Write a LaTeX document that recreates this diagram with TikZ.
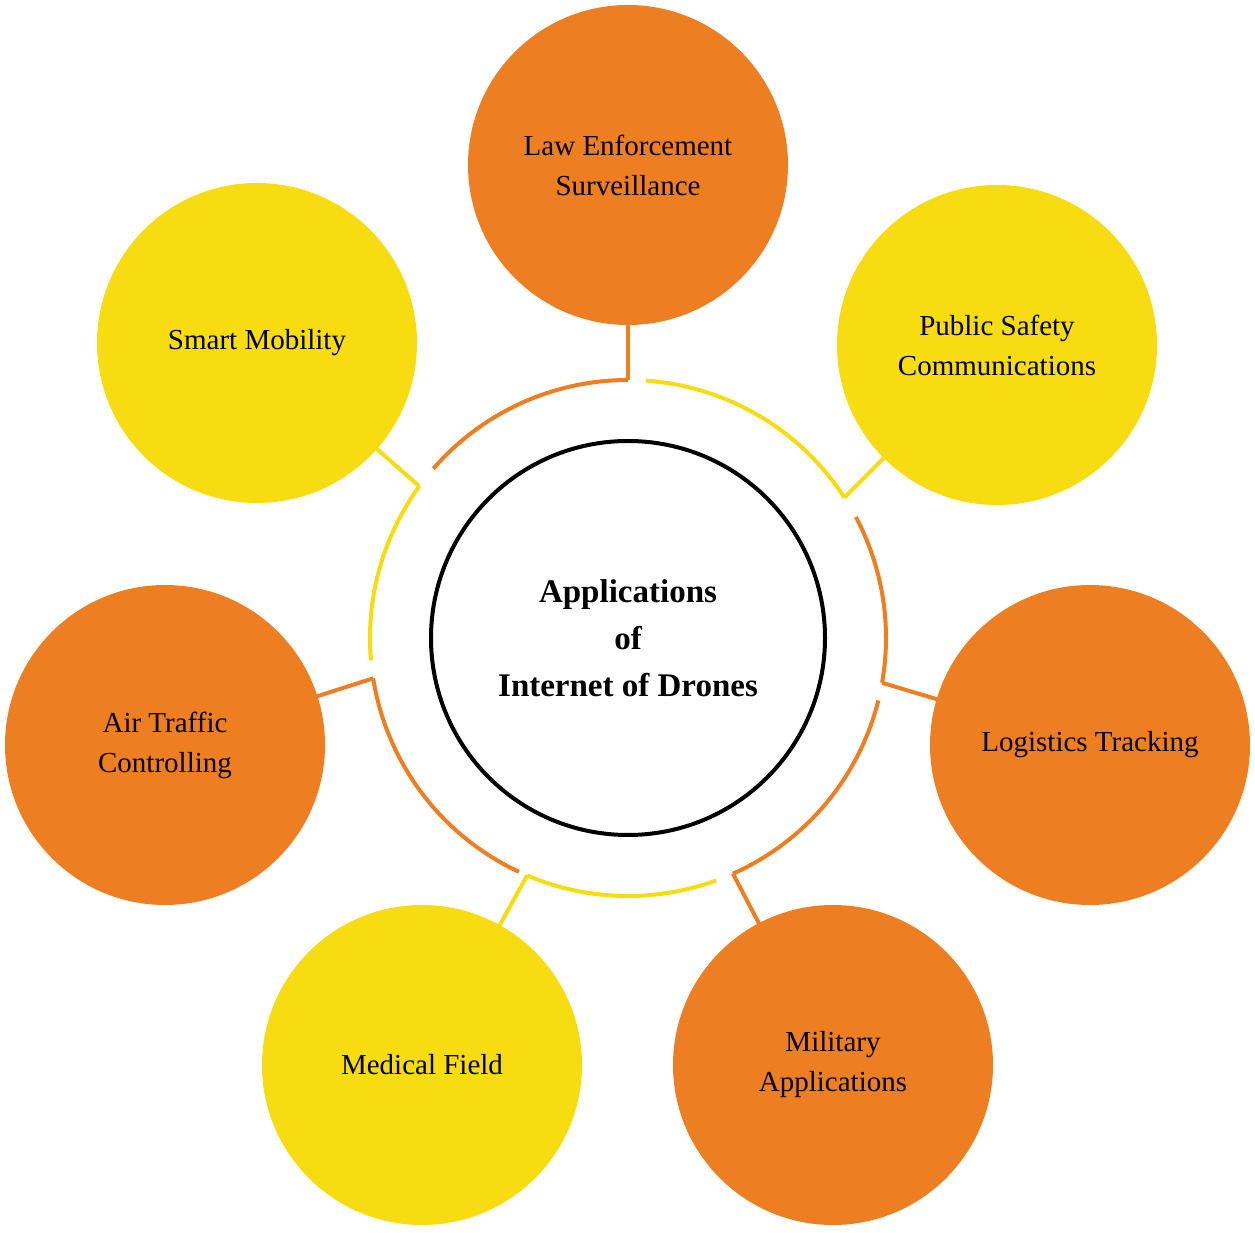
\documentclass[tikz,border=0pt]{standalone}
\usepackage{fontspec}
\setmainfont{Liberation Serif}
\begin{document}
\begin{tikzpicture}[x=1pt,y=1pt,
  sat/.style={circle,minimum size=320pt,inner sep=0pt,align=center,font=\fontsize{29}{40}\selectfont},
  orn/.style={fill=Or},
  yel/.style={fill=Ye},
  ring/.style={line width=4pt},
  conn/.style={line width=4pt}]
\definecolor{Or}{HTML}{EE7E22}
\definecolor{Ye}{HTML}{F6DC10}
\useasboundingbox (0,0) rectangle (1255,1232);
\coordinate (C) at (628,594);
% ring anchor points
\foreach \n/\a in {pL/90,pS/144,pA/189,pM/247,pMi/294,pLo/350,pP/33}
  \coordinate (\n) at ([shift={(\a:258pt)}]C);
% connectors
\draw[conn,Or] (pL) -- (628,1067);
\draw[conn,Ye] (pS) -- (257,889);
\draw[conn,Or] (pA) -- (165,487);
\draw[conn,Ye] (pM) -- (422,167);
\draw[conn,Or] (pMi) -- (833,167);
\draw[conn,Or] (pLo) -- (1090,487);
\draw[conn,Ye] (pP) -- (997,887);
% arcs
\draw[ring,Or] (pL) arc[start angle=90,end angle=139,radius=258pt];
\draw[ring,Ye] (pS) arc[start angle=144,end angle=185,radius=258pt];
\draw[ring,Or] (pA) arc[start angle=189,end angle=245,radius=258pt];
\draw[ring,Ye] (pM) arc[start angle=247,end angle=290,radius=258pt];
\draw[ring,Or] (pMi) arc[start angle=294,end angle=346,radius=258pt];
\draw[ring,Or] (pLo) arc[start angle=350,end angle=388,radius=258pt];
\draw[ring,Ye] (pP) arc[start angle=33,end angle=86,radius=258pt];
% satellites
\node[sat,orn] (law) at (628,1067) {Law Enforcement\\Surveillance};
\node[sat,yel] (pub) at (997,887) {Public Safety\\Communications};
\node[sat,orn] (log) at (1090,487) {Logistics Tracking};
\node[sat,orn] (mil) at (833,167) {Military\\Applications};
\node[sat,yel] (med) at (422,167) {Medical Field};
\node[sat,orn] (air) at (165,487) {Air Traffic\\Controlling};
\node[sat,yel] (sm) at (257,889) {Smart Mobility};
% center
\node[circle,draw=black,line width=4pt,fill=white,minimum size=394pt,align=center,
  font=\bfseries\fontsize{33}{47}\selectfont] (c) at (C) {Applications\\of\\Internet of Drones};
\end{tikzpicture}
\end{document}
